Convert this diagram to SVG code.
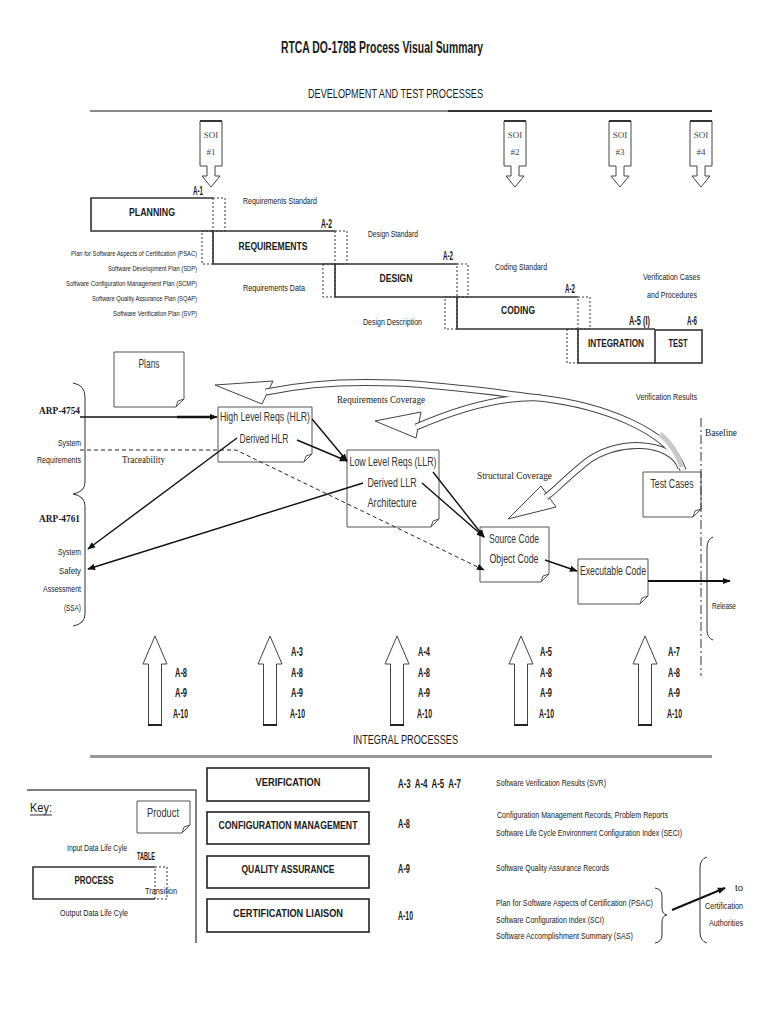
<svg xmlns="http://www.w3.org/2000/svg" width="768" height="1024" viewBox="0 0 768 1024">
<defs>
<style>
text{font-family:"Liberation Sans",Arial,sans-serif;fill:#1a1a1a}
.ser{font-family:"Liberation Serif","Times New Roman",serif}
.bx{font-weight:bold;font-size:11px}
.al{font-weight:bold;font-size:12px}
.sm{font-size:9px}
.xs{font-size:8px}
.nd{font-size:13px;fill:#333}
.soi{font-family:"Liberation Serif",serif;font-size:9px;fill:#444}
.step{fill:none;stroke:#333;stroke-width:1.6}
.dot{fill:none;stroke:#333;stroke-width:1;stroke-dasharray:2,2}
.doc{fill:#fff;stroke:#555;stroke-width:1}
.fold{fill:none;stroke:#555;stroke-width:1}
.ln{stroke:#111;stroke-width:1.4;fill:none;marker-end:url(#ah)}
.brc{fill:none;stroke:#333;stroke-width:1}
.arcO{fill:none;stroke:#444;stroke-width:7}
.arcI{fill:none;stroke:#fff;stroke-width:5}
.head{fill:#fff;stroke:#444;stroke-width:1}
.ibox{fill:#fff;stroke:#222;stroke-width:1.6}
.up{fill:#fff;stroke:#444;stroke-width:1}
</style>
<marker id="ah" viewBox="0 0 10 10" refX="9" refY="5" markerWidth="8" markerHeight="8" orient="auto" markerUnits="userSpaceOnUse"><path d="M0,1 L10,5 L0,9 Z" fill="#111"/></marker>
</defs>
<rect width="768" height="1024" fill="#fff"/>

<g id="header">
<text x="281" y="53" font-size="16" font-weight="bold" textLength="202" lengthAdjust="spacingAndGlyphs">RTCA DO-178B Process Visual Summary</text>
<text x="308" y="98" font-size="12.5" textLength="175" lengthAdjust="spacingAndGlyphs" fill="#333">DEVELOPMENT AND TEST PROCESSES</text>
<rect x="90" y="110" width="358" height="2" fill="#888"/>
<rect x="448" y="110" width="264" height="2" fill="#333"/>
</g>

<g id="soi1"><path class="up" d="M200,121 H222 V166 H215 V176 H220 L211,187 L202,176 H207 V166 H200 Z"/><line x1="200" y1="121" x2="222" y2="121" stroke="#333" stroke-width="2"/><text class="soi" x="211" y="138" text-anchor="middle">SOI</text><text class="soi" x="211" y="155" text-anchor="middle">#1</text></g>
<g id="soi2"><path class="up" d="M504,121 H526 V166 H519 V176 H524 L515,187 L506,176 H511 V166 H504 Z"/><line x1="504" y1="121" x2="526" y2="121" stroke="#333" stroke-width="2"/><text class="soi" x="515" y="138" text-anchor="middle">SOI</text><text class="soi" x="515" y="155" text-anchor="middle">#2</text></g>
<g id="soi3"><path class="up" d="M609,121 H631 V166 H624 V176 H629 L620,187 L611,176 H616 V166 H609 Z"/><line x1="609" y1="121" x2="631" y2="121" stroke="#333" stroke-width="2"/><text class="soi" x="620" y="138" text-anchor="middle">SOI</text><text class="soi" x="620" y="155" text-anchor="middle">#3</text></g>
<g id="soi4"><path class="up" d="M690,121 H712 V166 H705 V176 H710 L701,187 L692,176 H697 V166 H690 Z"/><line x1="690" y1="121" x2="712" y2="121" stroke="#333" stroke-width="2"/><text class="soi" x="701" y="138" text-anchor="middle">SOI</text><text class="soi" x="701" y="155" text-anchor="middle">#4</text></g>

<g id="planning">
<path class="step" d="M213,198 H91 V231 H213"/>
<rect class="dot" x="213" y="198" width="12" height="33"/>
<text class="bx" x="152" y="216" text-anchor="middle" textLength="46" lengthAdjust="spacingAndGlyphs">PLANNING</text>
<text class="al" x="193" y="195" textLength="10" lengthAdjust="spacingAndGlyphs">A-1</text>
<text class="xs" x="197" y="256" text-anchor="end" textLength="126" lengthAdjust="spacingAndGlyphs">Plan for Software Aspects of Certification (PSAC)</text>
<text class="xs" x="197" y="271" text-anchor="end" textLength="89" lengthAdjust="spacingAndGlyphs">Software Development Plan (SDP)</text>
<text class="xs" x="197" y="286" text-anchor="end" textLength="131" lengthAdjust="spacingAndGlyphs">Software Configuration Management Plan (SCMP)</text>
<text class="xs" x="197" y="301" text-anchor="end" textLength="105" lengthAdjust="spacingAndGlyphs">Software Quality Assurance Plan (SQAP)</text>
<text class="xs" x="197" y="316" text-anchor="end" textLength="84" lengthAdjust="spacingAndGlyphs">Software Verification Plan (SVP)</text>
<text class="sm" x="243" y="204" textLength="74" lengthAdjust="spacingAndGlyphs">Requirements Standard</text>
</g>

<g id="requirements">
<rect class="dot" x="202" y="231" width="11" height="33"/>
<rect class="dot" x="335" y="231" width="12" height="33"/>
<path class="step" d="M335,231 H213 V264 H335"/>
<text class="bx" x="273" y="250" text-anchor="middle" textLength="69" lengthAdjust="spacingAndGlyphs">REQUIREMENTS</text>
<text class="al" x="321" y="228" textLength="11" lengthAdjust="spacingAndGlyphs">A-2</text>
<text class="sm" x="243" y="291" textLength="62" lengthAdjust="spacingAndGlyphs">Requirements Data</text>
<text class="sm" x="368" y="237" textLength="50" lengthAdjust="spacingAndGlyphs">Design Standard</text>
</g>

<g id="design">
<rect class="dot" x="323" y="264" width="12" height="33"/>
<rect class="dot" x="457" y="264" width="11" height="33"/>
<path class="step" d="M457,264 H335 V297 H457"/>
<text class="bx" x="396" y="282" text-anchor="middle" textLength="33" lengthAdjust="spacingAndGlyphs">DESIGN</text>
<text class="al" x="443" y="260" textLength="10" lengthAdjust="spacingAndGlyphs">A-2</text>
<text class="sm" x="363" y="325" textLength="59" lengthAdjust="spacingAndGlyphs">Design Description</text>
<text class="sm" x="495" y="270" textLength="52" lengthAdjust="spacingAndGlyphs">Coding Standard</text>
</g>

<g id="coding">
<rect class="dot" x="445" y="297" width="12" height="32"/>
<rect class="dot" x="578" y="297" width="12" height="32"/>
<path class="step" d="M578,297 H457 V329 H578"/>
<text class="bx" x="518" y="314" text-anchor="middle" textLength="34" lengthAdjust="spacingAndGlyphs">CODING</text>
<text class="al" x="565" y="293" textLength="10" lengthAdjust="spacingAndGlyphs">A-2</text>
<text class="sm" x="643" y="280" textLength="57" lengthAdjust="spacingAndGlyphs">Verification Cases</text>
<text class="sm" x="647" y="298" textLength="50" lengthAdjust="spacingAndGlyphs">and Procedures</text>
</g>

<g id="integration">
<rect class="dot" x="567" y="329" width="11" height="34"/>
<path class="step" d="M655,329 H578 V363 H655"/>
<text class="bx" x="616" y="347" text-anchor="middle" textLength="56" lengthAdjust="spacingAndGlyphs">INTEGRATION</text>
<text class="al" x="629" y="325" textLength="21" lengthAdjust="spacingAndGlyphs">A-5 (I)</text>
</g>

<g id="test">
<rect class="step" x="655" y="330" width="47" height="33"/>
<text class="bx" x="678" y="347" text-anchor="middle" textLength="19" lengthAdjust="spacingAndGlyphs">TEST</text>
<text class="al" x="687" y="325" textLength="10" lengthAdjust="spacingAndGlyphs">A-6</text>
</g>

<g id="plans"><path class="doc" d="M114,352 H184 V399 L176,407 H114 Z"/><path class="fold" d="M176,407 L178,401 L184,399"/><text class="nd" x="149" y="368" text-anchor="middle" textLength="21" lengthAdjust="spacingAndGlyphs">Plans</text></g>

<g id="arp4754">
<path class="brc" d="M73,383 Q85,385 85,397 V482 Q85,492 73,494"/>
<text class="ser" x="80" y="414" font-size="11" font-weight="bold" text-anchor="end" textLength="41" lengthAdjust="spacingAndGlyphs">ARP-4754</text>
<text class="sm" x="81" y="446" text-anchor="end" textLength="23" lengthAdjust="spacingAndGlyphs">System</text>
<text class="sm" x="81" y="463" text-anchor="end" textLength="44" lengthAdjust="spacingAndGlyphs">Requirements</text>
</g>

<g id="arp4761">
<path class="brc" d="M73,494 Q85,496 85,506 V614 Q85,624 73,626"/>
<text class="ser" x="80" y="522" font-size="11" font-weight="bold" text-anchor="end" textLength="41" lengthAdjust="spacingAndGlyphs">ARP-4761</text>
<text class="sm" x="81" y="555" text-anchor="end" textLength="23" lengthAdjust="spacingAndGlyphs">System</text>
<text class="sm" x="81" y="574" text-anchor="end" textLength="22" lengthAdjust="spacingAndGlyphs">Safety</text>
<text class="sm" x="81" y="592" text-anchor="end" textLength="38" lengthAdjust="spacingAndGlyphs">Assessment</text>
<text class="sm" x="81" y="611" text-anchor="end" textLength="17" lengthAdjust="spacingAndGlyphs">(SSA)</text>
</g>

<g id="hlr"><path class="doc" d="M218,407 H312 V454 L304,462 H218 Z"/><path class="fold" d="M304,462 L306,456 L312,454"/>
<text class="nd" x="265" y="421" text-anchor="middle" textLength="90" lengthAdjust="spacingAndGlyphs">High Level Reqs (HLR)</text>
<text class="nd" x="264" y="443" text-anchor="middle" textLength="49" lengthAdjust="spacingAndGlyphs">Derived HLR</text></g>

<g id="llr"><path class="doc" d="M347,450 H439 V519 L431,527 H347 Z"/><path class="fold" d="M431,527 L433,521 L439,519"/>
<text class="nd" x="393" y="466" text-anchor="middle" textLength="87" lengthAdjust="spacingAndGlyphs">Low Level Reqs (LLR)</text>
<text class="nd" x="392" y="487" text-anchor="middle" textLength="49" lengthAdjust="spacingAndGlyphs">Derived LLR</text>
<text class="nd" x="392" y="507" text-anchor="middle" textLength="49" lengthAdjust="spacingAndGlyphs">Architecture</text></g>

<g id="source"><path class="doc" d="M480,527 H549 V574 L541,582 H480 Z"/><path class="fold" d="M541,582 L543,576 L549,574"/>
<text class="nd" x="514" y="543" text-anchor="middle" textLength="50" lengthAdjust="spacingAndGlyphs">Source Code</text>
<text class="nd" x="514" y="563" text-anchor="middle" textLength="49" lengthAdjust="spacingAndGlyphs">Object Code</text></g>

<g id="executable"><path class="doc" d="M578,559 H648 V596 L640,604 H578 Z"/><path class="fold" d="M640,604 L642,598 L648,596"/>
<text class="nd" x="613" y="575" text-anchor="middle" textLength="66" lengthAdjust="spacingAndGlyphs">Executable Code</text></g>

<g id="testcases"><path class="doc" d="M643,472 H701 V509 L693,517 H643 Z"/><path class="fold" d="M693,517 L695,511 L701,509"/>
<text class="nd" x="672" y="488" text-anchor="middle" textLength="43" lengthAdjust="spacingAndGlyphs">Test Cases</text></g>

<g id="labels">
<text class="ser" x="337" y="403" font-size="11" textLength="88" lengthAdjust="spacingAndGlyphs">Requirements Coverage</text>
<text class="ser" x="477" y="479" font-size="11" textLength="75" lengthAdjust="spacingAndGlyphs">Structural Coverage</text>
<text class="ser" x="122" y="463" font-size="11" textLength="43" lengthAdjust="spacingAndGlyphs">Traceability</text>
<text class="ser" x="705" y="436" font-size="11" textLength="32" lengthAdjust="spacingAndGlyphs">Baseline</text>
<text class="sm" x="636" y="400" textLength="61" lengthAdjust="spacingAndGlyphs">Verification Results</text>
<text class="sm" x="712" y="609" textLength="24" lengthAdjust="spacingAndGlyphs">Release</text>
<path class="brc" d="M713,537 Q707,539 707,548 V630 Q707,638 713,640"/>
<path d="M701,418 V676" stroke="#333" stroke-width="1" stroke-dasharray="9,3,2,3" fill="none"/>
</g>

<g id="connectors">
<line x1="80" y1="417" x2="217" y2="417" stroke="#111" stroke-width="1.5" marker-end="url(#ah)"/>
<line x1="177" y1="417" x2="212" y2="417" stroke="#111" stroke-width="2.5"/>
<path d="M80,450 H236 L484,570" fill="none" stroke="#222" stroke-width="1" stroke-dasharray="4,3" marker-end="url(#ah)"/>
<line class="ln" x1="237" y1="438" x2="88" y2="549"/>
<line class="ln" x1="363" y1="483" x2="88" y2="569"/>
<line class="ln" x1="312" y1="419" x2="347" y2="461"/>
<line class="ln" x1="297" y1="440" x2="347" y2="461"/>
<line class="ln" x1="433" y1="472" x2="484" y2="537"/>
<line class="ln" x1="422" y1="483" x2="484" y2="537"/>
<line class="ln" x1="545" y1="560" x2="577" y2="571"/>
<line x1="648" y1="581" x2="730" y2="581" stroke="#111" stroke-width="2" marker-end="url(#ah)"/>
<line x1="672" y1="910" x2="725" y2="888" stroke="#111" stroke-width="2" marker-end="url(#ah)"/>
<polygon class="head" points="215,385 273,381 262,404"/>
<polygon class="head" points="375,421 421,412 416,438"/>
<polygon class="head" points="508,519 541,486 556,507"/>
<path class="arcO" d="M683,470 C670,430 600,405 540,398 C460,388 360,372 266,392"/>
<path class="arcO" d="M540,398 C500,396 455,410 416,427"/>
<path class="arcO" d="M681,468 C672,440 615,438 585,463 S556,490 546,497"/>
<path class="arcI" d="M683,470 C670,430 600,405 540,398 C460,388 360,372 266,392"/>
<path class="arcI" d="M540,398 C500,396 455,410 416,427"/>
<path class="arcI" d="M681,468 C672,440 615,438 585,463 S556,490 546,497"/>
<path d="M682,467 C677,452 670,442 660,434" fill="none" stroke="#c8c8c8" stroke-width="5"/>
</g>

<g id="integral-arrows">
<path class="up" d="M155,636 L167,664 H161.5 V725 H148.5 V664 H143 Z"/>
<path class="up" d="M270,636 L282,664 H276.5 V725 H263.5 V664 H258 Z"/>
<path class="up" d="M397,636 L409,664 H403.5 V725 H390.5 V664 H385 Z"/>
<path class="up" d="M521,636 L533,664 H527.5 V725 H514.5 V664 H509 Z"/>
<path class="up" d="M645,636 L657,664 H651.5 V725 H638.5 V664 H633 Z"/>
<g stroke="#222" stroke-width="2"><line x1="148" y1="725" x2="162" y2="725"/><line x1="263" y1="725" x2="277" y2="725"/><line x1="390" y1="725" x2="404" y2="725"/><line x1="514" y1="725" x2="528" y2="725"/><line x1="638" y1="725" x2="652" y2="725"/></g>
<text class="al" x="175" y="677" textLength="12" lengthAdjust="spacingAndGlyphs">A-8</text>
<text class="al" x="175" y="697" textLength="12" lengthAdjust="spacingAndGlyphs">A-9</text>
<text class="al" x="173" y="718" textLength="15" lengthAdjust="spacingAndGlyphs">A-10</text>
<text class="al" x="291" y="656" textLength="12" lengthAdjust="spacingAndGlyphs">A-3</text>
<text class="al" x="291" y="677" textLength="12" lengthAdjust="spacingAndGlyphs">A-8</text>
<text class="al" x="291" y="697" textLength="12" lengthAdjust="spacingAndGlyphs">A-9</text>
<text class="al" x="290" y="718" textLength="15" lengthAdjust="spacingAndGlyphs">A-10</text>
<text class="al" x="418" y="656" textLength="12" lengthAdjust="spacingAndGlyphs">A-4</text>
<text class="al" x="418" y="677" textLength="12" lengthAdjust="spacingAndGlyphs">A-8</text>
<text class="al" x="418" y="697" textLength="12" lengthAdjust="spacingAndGlyphs">A-9</text>
<text class="al" x="417" y="718" textLength="15" lengthAdjust="spacingAndGlyphs">A-10</text>
<text class="al" x="540" y="656" textLength="12" lengthAdjust="spacingAndGlyphs">A-5</text>
<text class="al" x="540" y="677" textLength="12" lengthAdjust="spacingAndGlyphs">A-8</text>
<text class="al" x="540" y="697" textLength="12" lengthAdjust="spacingAndGlyphs">A-9</text>
<text class="al" x="539" y="718" textLength="15" lengthAdjust="spacingAndGlyphs">A-10</text>
<text class="al" x="668" y="656" textLength="12" lengthAdjust="spacingAndGlyphs">A-7</text>
<text class="al" x="668" y="677" textLength="12" lengthAdjust="spacingAndGlyphs">A-8</text>
<text class="al" x="668" y="697" textLength="12" lengthAdjust="spacingAndGlyphs">A-9</text>
<text class="al" x="667" y="718" textLength="15" lengthAdjust="spacingAndGlyphs">A-10</text>
<text x="353" y="744" font-size="12.5" fill="#333" textLength="105" lengthAdjust="spacingAndGlyphs">INTEGRAL PROCESSES</text>
<rect x="90" y="755" width="622" height="3" fill="#999"/>
</g>

<g id="key">
<path d="M27,790 H196 V943" fill="none" stroke="#555" stroke-width="1.5"/>
<text x="30" y="812" font-size="12" fill="#333" textLength="22" lengthAdjust="spacingAndGlyphs">Key:</text>
<line x1="30" y1="815" x2="52" y2="815" stroke="#333" stroke-width="1"/>
<path class="doc" d="M137,801 H190 V825 L182,833 H137 Z"/><path class="fold" d="M182,833 L184,827 L190,825"/>
<text class="nd" x="163" y="817" text-anchor="middle" textLength="32" lengthAdjust="spacingAndGlyphs">Product</text>
<text class="sm" x="97" y="851" text-anchor="middle" textLength="60" lengthAdjust="spacingAndGlyphs">Input Data Life Cyle</text>
<text x="137" y="860" font-size="10" font-weight="bold" textLength="18" lengthAdjust="spacingAndGlyphs">TABLE</text>
<path class="step" d="M155,867 H33 V899 H155"/>
<rect class="dot" x="155" y="867" width="12" height="32"/>
<text class="bx" x="94" y="884" text-anchor="middle" textLength="39" lengthAdjust="spacingAndGlyphs">PROCESS</text>
<text class="sm" x="145" y="894" textLength="32" lengthAdjust="spacingAndGlyphs">Transition</text>
<text class="sm" x="94" y="916" text-anchor="middle" textLength="68" lengthAdjust="spacingAndGlyphs">Output Data Life Cyle</text>
</g>

<g id="verification">
<rect class="ibox" x="207" y="768" width="162" height="33"/>
<text class="bx" x="288" y="786" text-anchor="middle" textLength="65" lengthAdjust="spacingAndGlyphs">VERIFICATION</text>
<text class="al" x="398" y="788" style="white-space:pre" textLength="63" lengthAdjust="spacingAndGlyphs">A-3  A-4  A-5  A-7</text>
<text class="sm" x="496" y="786" textLength="110" lengthAdjust="spacingAndGlyphs">Software Verification Results (SVR)</text>
</g>

<g id="configuration-management">
<rect class="ibox" x="207" y="812" width="162" height="32"/>
<text class="bx" x="288" y="829" text-anchor="middle" textLength="139" lengthAdjust="spacingAndGlyphs">CONFIGURATION MANAGEMENT</text>
<text class="al" x="398" y="828" textLength="12" lengthAdjust="spacingAndGlyphs">A-8</text>
<text class="sm" x="497" y="818" textLength="171" lengthAdjust="spacingAndGlyphs">Configuration Management Records, Problem Reports</text>
<text class="sm" x="496" y="836" textLength="186" lengthAdjust="spacingAndGlyphs">Software Life Cycle Environment Configuration Index (SECI)</text>
</g>

<g id="quality-assurance">
<rect class="ibox" x="207" y="856" width="162" height="32"/>
<text class="bx" x="288" y="873" text-anchor="middle" textLength="93" lengthAdjust="spacingAndGlyphs">QUALITY ASSURANCE</text>
<text class="al" x="398" y="873" textLength="12" lengthAdjust="spacingAndGlyphs">A-9</text>
<text class="sm" x="496" y="871" textLength="113" lengthAdjust="spacingAndGlyphs">Software Quality Assurance Records</text>
</g>

<g id="certification-liaison">
<rect class="ibox" x="207" y="899" width="162" height="33"/>
<text class="bx" x="288" y="917" text-anchor="middle" textLength="110" lengthAdjust="spacingAndGlyphs">CERTIFICATION LIAISON</text>
<text class="al" x="398" y="920" textLength="15" lengthAdjust="spacingAndGlyphs">A-10</text>
<text class="sm" x="496" y="906" textLength="157" lengthAdjust="spacingAndGlyphs">Plan for Software Aspects of Certification (PSAC)</text>
<text class="sm" x="496" y="923" textLength="108" lengthAdjust="spacingAndGlyphs">Software Configuration Index (SCI)</text>
<text class="sm" x="496" y="939" textLength="137" lengthAdjust="spacingAndGlyphs">Software Accomplishment Summary (SAS)</text>
<path class="brc" d="M655,888 Q662,889 662,896 V908 Q662,914 667,915 Q662,916 662,922 V935 Q662,942 655,943"/>
</g>

<g id="certification-authorities">
<path class="brc" d="M707,857 Q700,859 700,868 V932 Q700,941 707,943"/>
<text class="sm" x="743" y="891" text-anchor="end" textLength="8" lengthAdjust="spacingAndGlyphs">to</text>
<text class="sm" x="743" y="909" text-anchor="end" textLength="38" lengthAdjust="spacingAndGlyphs">Certification</text>
<text class="sm" x="743" y="926" text-anchor="end" textLength="34" lengthAdjust="spacingAndGlyphs">Authorities</text>
</g>
</svg>
